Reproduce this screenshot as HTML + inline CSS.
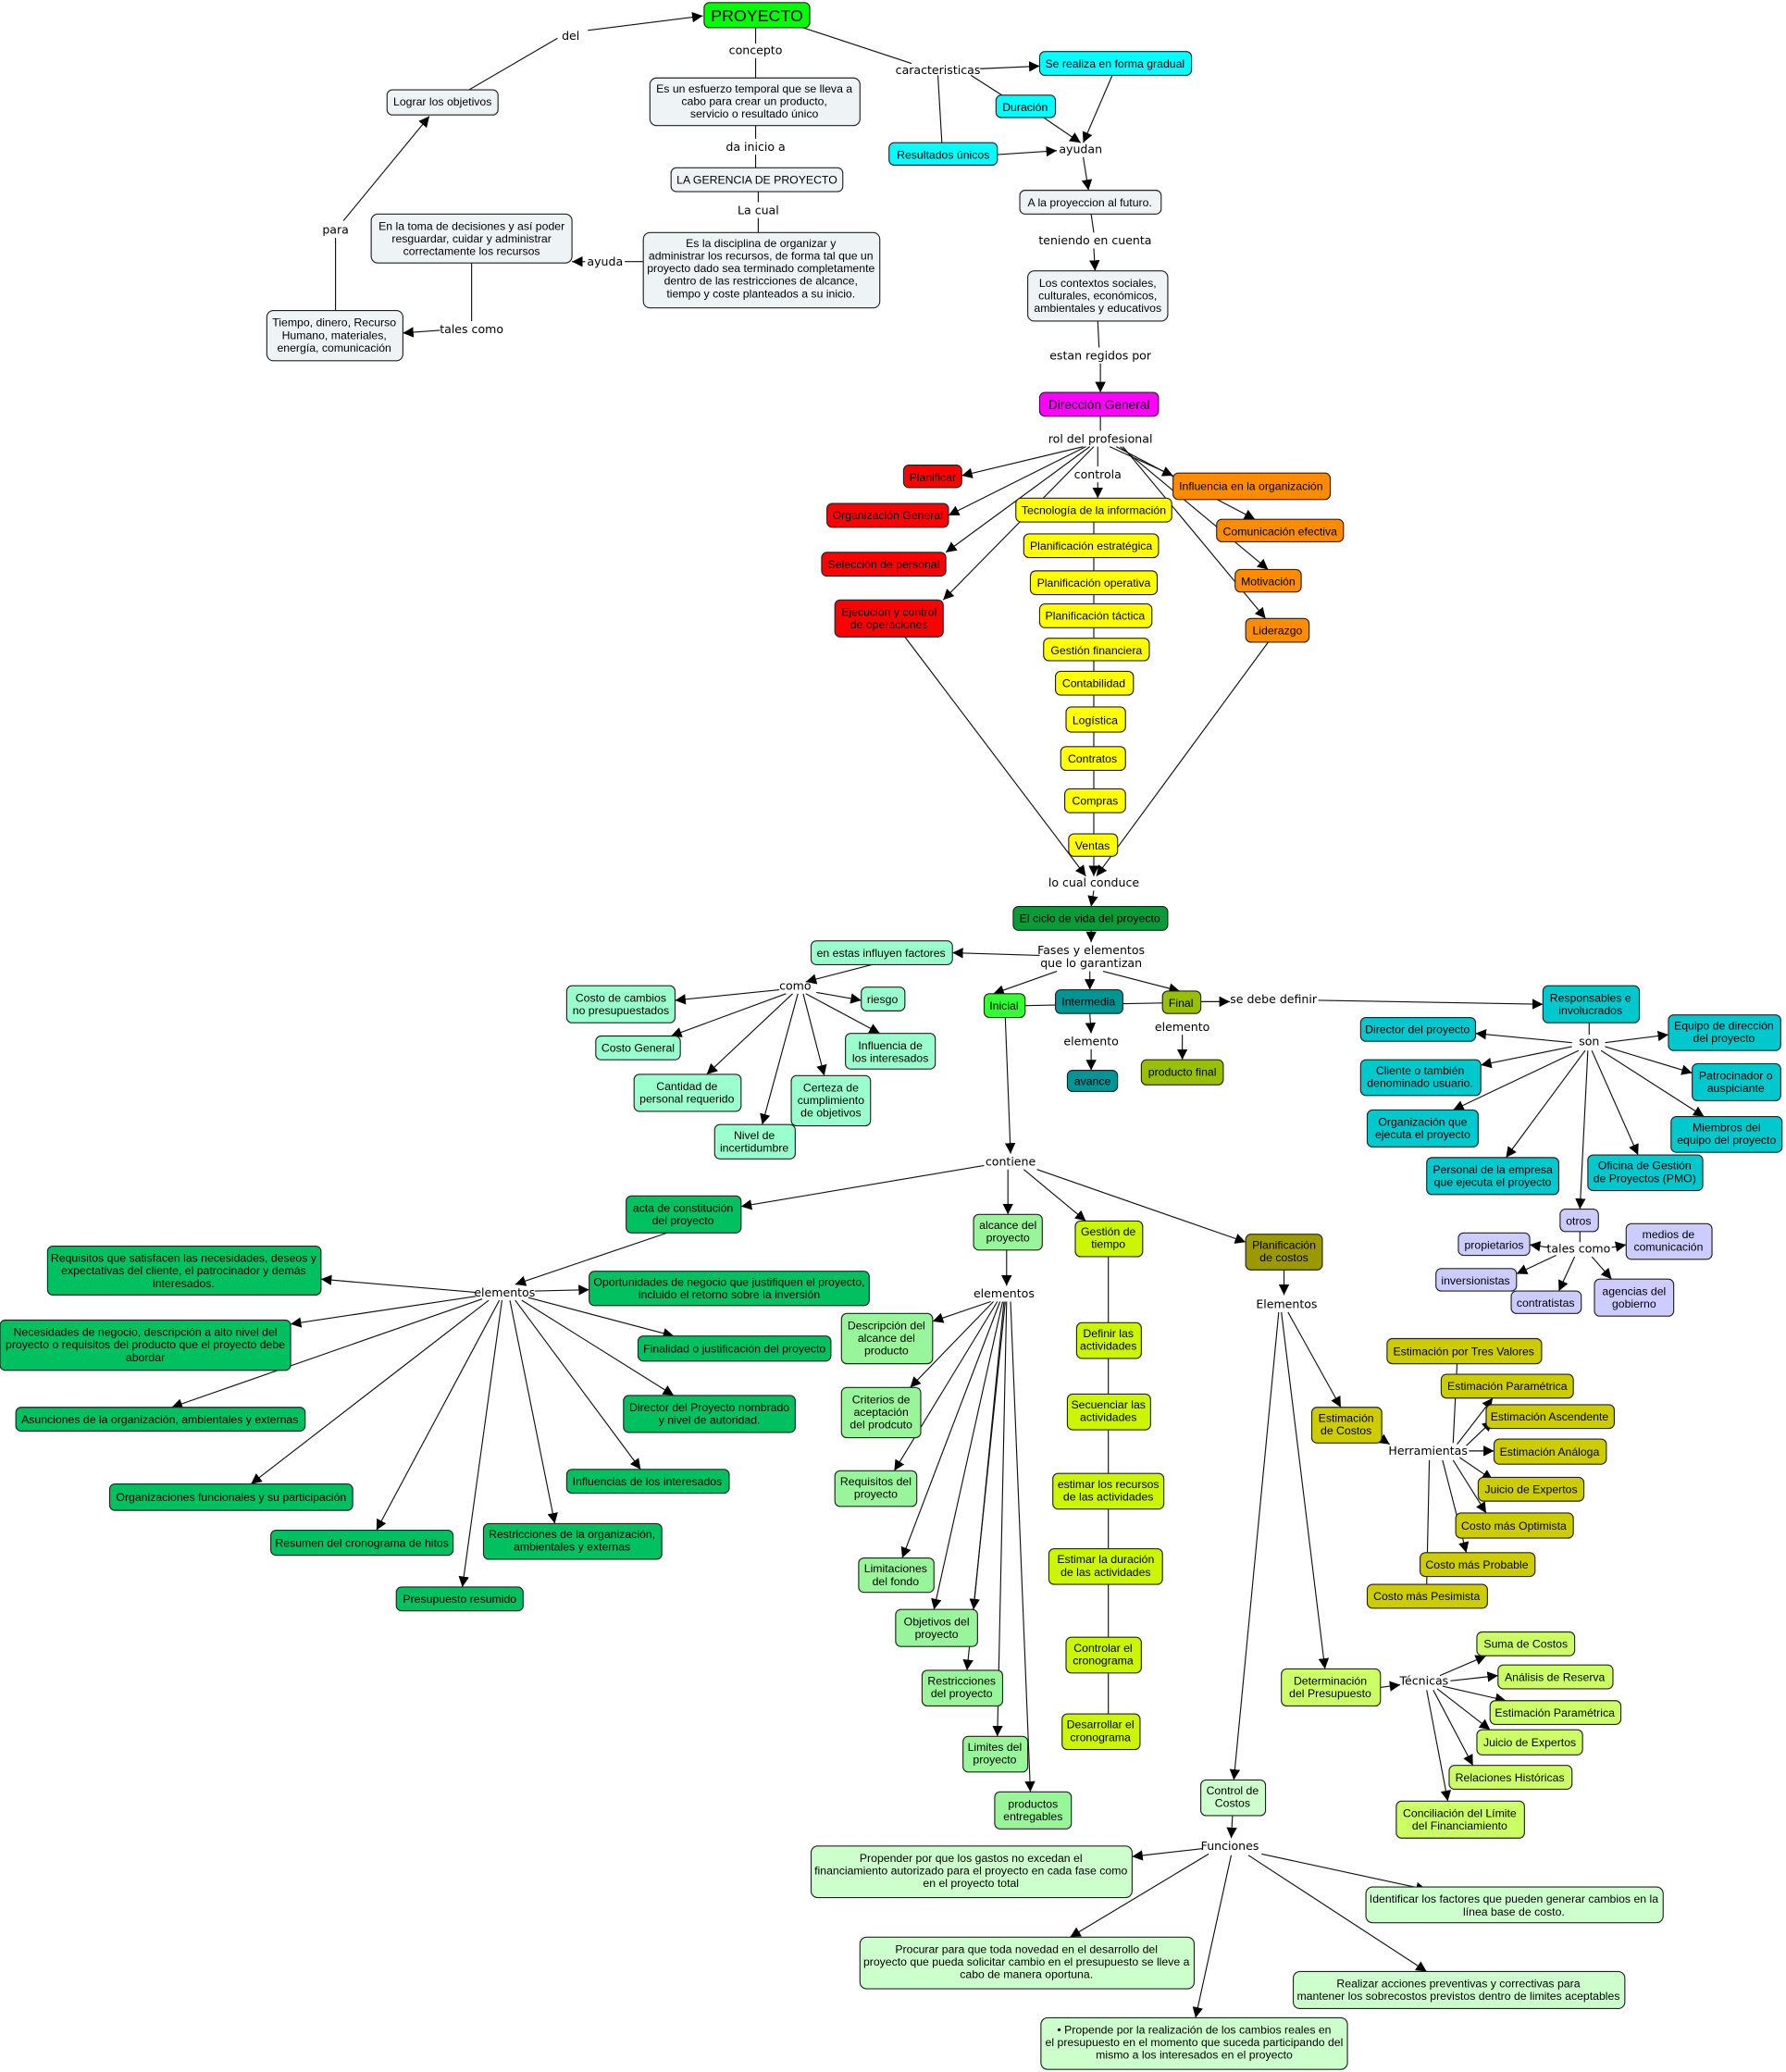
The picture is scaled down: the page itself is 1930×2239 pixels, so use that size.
<!DOCTYPE html>
<html><head><meta charset="utf-8"><style>
html,body{margin:0;padding:0;background:#fff}
svg{display:block}
text{font-family:"Liberation Sans",sans-serif;font-size:8.6px;fill:#000;text-anchor:middle}
.l{font-family:"DejaVu Sans",sans-serif;font-size:8.8px}
rect{stroke:#222;stroke-width:0.8}
line{stroke:#111;stroke-width:0.8}
.a{marker-end:url(#ar)}
.w{fill:#eef3f5}.g{fill:#00ff00}.c{fill:#00ffff}.m{fill:#ff00ff}.r{fill:#ff0000}.y{fill:#ffff00}.o{fill:#ff8c00}
.dg{fill:#0a9a38}.mi{fill:#99ffcc}.bg{fill:#33ff33}.tl{fill:#009595}.ol{fill:#99c000}.cy{fill:#00c8cc}.lv{fill:#ccccff}
.gr{fill:#00c060}.lg{fill:#99f599}.yg{fill:#ccf500}.dk{fill:#9a9a00}.yy{fill:#cccc00}.ly{fill:#ccff66}.pg{fill:#ccffcc}
</style></head><body>
<svg width="1930" height="2239" viewBox="0 0 1352 1568" preserveAspectRatio="none" xmlns="http://www.w3.org/2000/svg">
<defs><marker id="ar" viewBox="0 0 10 10" refX="10" refY="5" markerWidth="8" markerHeight="8" markerUnits="userSpaceOnUse" orient="auto"><path d="M0,0L10,5L0,10z" fill="#000"/></marker></defs>
<g>
<line x1="355" y1="68" x2="422" y2="29"/><line class="a" x1="445" y1="23" x2="532" y2="12"/>
<line x1="572" y1="21" x2="572" y2="33"/><line x1="572" y1="44" x2="572" y2="59"/>
<line x1="572" y1="95" x2="572" y2="105"/><line x1="572" y1="117" x2="572" y2="127"/>
<line x1="574" y1="145" x2="574" y2="153"/><line x1="574" y1="165" x2="574" y2="176"/>
<line x1="487" y1="198" x2="473" y2="198"/><line class="a" x1="443" y1="198" x2="433" y2="198"/>
<line x1="357" y1="199" x2="357" y2="243"/><line class="a" x1="333" y1="250" x2="305" y2="252"/>
<line x1="254" y1="235" x2="254" y2="180"/><line class="a" x1="260" y1="167" x2="325" y2="88"/>
<line x1="605" y1="20" x2="690" y2="48"/>
<line class="a" x1="742" y1="52" x2="787" y2="50"/>
<line x1="735" y1="57" x2="760" y2="73"/>
<line x1="710" y1="57" x2="713" y2="108"/>
<line class="a" x1="755" y1="117" x2="800" y2="114"/>
<line class="a" x1="790" y1="89" x2="818" y2="108"/>
<line class="a" x1="842" y1="57" x2="820" y2="108"/>
<line class="a" x1="820" y1="119" x2="824" y2="144"/>
<line x1="826" y1="162" x2="828" y2="176"/><line class="a" x1="828" y1="188" x2="829" y2="205"/>
<line x1="831" y1="243" x2="832" y2="263"/><line class="a" x1="833" y1="275" x2="833" y2="297"/>
<line x1="833" y1="315" x2="833" y2="326"/>
<line class="a" x1="820" y1="338" x2="728" y2="360"/>
<line class="a" x1="822" y1="338" x2="718" y2="390"/>
<line class="a" x1="825" y1="338" x2="716" y2="418"/>
<line class="a" x1="828" y1="338" x2="714" y2="454"/>
<line x1="831" y1="338" x2="831" y2="353"/><line class="a" x1="831" y1="365" x2="831" y2="377"/>
<line class="a" x1="840" y1="338" x2="888" y2="360"/>
<line class="a" x1="845" y1="338" x2="950" y2="393"/>
<line class="a" x1="848" y1="338" x2="960" y2="431"/>
<line class="a" x1="850" y1="338" x2="958" y2="468"/>
<line x1="828" y1="395" x2="828" y2="631"/>
<line class="a" x1="685" y1="482" x2="822" y2="663"/>
<line class="a" x1="828" y1="648" x2="828" y2="663"/>
<line class="a" x1="960" y1="486" x2="830" y2="663"/>
<line class="a" x1="828" y1="674" x2="826" y2="686"/>
<line class="a" x1="826" y1="704" x2="826" y2="713"/>
<line class="a" x1="787" y1="723" x2="721" y2="721"/>
<line class="a" x1="800" y1="735" x2="752" y2="752"/>
<line class="a" x1="825" y1="735" x2="825" y2="749"/>
<line class="a" x1="835" y1="735" x2="893" y2="750"/>
<line x1="776" y1="761" x2="880" y2="759"/>
<line class="a" x1="660" y1="730" x2="610" y2="743"/>
<line class="a" x1="590" y1="749" x2="511" y2="757"/>
<line class="a" x1="618" y1="751" x2="652" y2="757"/>
<line class="a" x1="595" y1="752" x2="508" y2="784"/>
<line class="a" x1="610" y1="752" x2="666" y2="782"/>
<line class="a" x1="600" y1="752" x2="535" y2="813"/>
<line class="a" x1="608" y1="752" x2="624" y2="814"/>
<line class="a" x1="604" y1="752" x2="577" y2="851"/>
<line class="a" x1="825" y1="767" x2="826" y2="782"/><line class="a" x1="826" y1="794" x2="826" y2="810"/>
<line class="a" x1="895" y1="783" x2="895" y2="802"/>
<line class="a" x1="909" y1="758" x2="931" y2="758"/>
<line class="a" x1="998" y1="757" x2="1168" y2="760"/>
<line x1="1203" y1="774" x2="1203" y2="783"/>
<line class="a" x1="1190" y1="789" x2="1117" y2="782"/>
<line class="a" x1="1215" y1="789" x2="1263" y2="783"/>
<line class="a" x1="1190" y1="792" x2="1121" y2="806"/>
<line class="a" x1="1215" y1="792" x2="1281" y2="812"/>
<line class="a" x1="1195" y1="795" x2="1100" y2="840"/>
<line class="a" x1="1212" y1="795" x2="1290" y2="845"/>
<line class="a" x1="1200" y1="795" x2="1140" y2="876"/>
<line class="a" x1="1205" y1="795" x2="1240" y2="874"/>
<line class="a" x1="1202" y1="795" x2="1196" y2="915"/>
<line x1="1196" y1="932" x2="1196" y2="940"/>
<line class="a" x1="1172" y1="944" x2="1158" y2="942"/>
<line class="a" x1="1220" y1="944" x2="1231" y2="942"/>
<line class="a" x1="1178" y1="950" x2="1148" y2="964"/>
<line class="a" x1="1192" y1="951" x2="1180" y2="977"/>
<line class="a" x1="1205" y1="951" x2="1220" y2="968"/>
<line class="a" x1="761" y1="770" x2="765" y2="873"/>
<line class="a" x1="745" y1="882" x2="561" y2="913"/>
<line class="a" x1="763" y1="885" x2="763" y2="919"/>
<line class="a" x1="775" y1="885" x2="822" y2="924"/>
<line class="a" x1="785" y1="885" x2="943" y2="940"/>
<line class="a" x1="505" y1="933" x2="390" y2="972"/>
<line class="a" x1="360" y1="978" x2="243" y2="968"/>
<line class="a" x1="405" y1="977" x2="446" y2="976"/>
<line class="a" x1="360" y1="981" x2="220" y2="1002"/>
<line class="a" x1="400" y1="982" x2="510" y2="1011"/>
<line class="a" x1="365" y1="983" x2="130" y2="1065"/>
<line class="a" x1="395" y1="984" x2="510" y2="1056"/>
<line class="a" x1="390" y1="984" x2="485" y2="1112"/>
<line class="a" x1="370" y1="984" x2="190" y2="1123"/>
<line class="a" x1="378" y1="984" x2="285" y2="1158"/>
<line class="a" x1="386" y1="984" x2="420" y2="1153"/>
<line class="a" x1="380" y1="984" x2="350" y2="1201"/>
<line class="a" x1="762" y1="946" x2="762" y2="973"/>
<line class="a" x1="750" y1="985" x2="706" y2="1000"/>
<line class="a" x1="752" y1="985" x2="689" y2="1050"/>
<line class="a" x1="755" y1="985" x2="677" y2="1113"/>
<line class="a" x1="757" y1="985" x2="683" y2="1179"/>
<line class="a" x1="759" y1="985" x2="707" y2="1218"/>
<line class="a" x1="760" y1="985" x2="737" y2="1218"/>
<line class="a" x1="761" y1="985" x2="732" y2="1264"/>
<line class="a" x1="762" y1="985" x2="755" y2="1314"/>
<line class="a" x1="765" y1="985" x2="780" y2="1356"/>
<line x1="839" y1="951" x2="839" y2="1297"/>
<line class="a" x1="972" y1="961" x2="972" y2="980"/>
<line class="a" x1="975" y1="993" x2="1015" y2="1065"/>
<line class="a" x1="970" y1="993" x2="1003" y2="1263"/>
<line class="a" x1="968" y1="993" x2="934" y2="1347"/>
<line class="a" x1="1046" y1="1089" x2="1052" y2="1093"/>
<line x1="1100" y1="1092" x2="1103" y2="1032"/>
<line class="a" x1="1103" y1="1093" x2="1130" y2="1058"/>
<line class="a" x1="1110" y1="1094" x2="1130" y2="1075"/>
<line class="a" x1="1112" y1="1098" x2="1131" y2="1098"/>
<line class="a" x1="1105" y1="1103" x2="1130" y2="1120"/>
<line class="a" x1="1100" y1="1105" x2="1125" y2="1145"/>
<line class="a" x1="1092" y1="1105" x2="1110" y2="1175"/>
<line x1="1082" y1="1105" x2="1080" y2="1199"/>
<line class="a" x1="1045" y1="1277" x2="1060" y2="1275"/>
<line class="a" x1="1090" y1="1268" x2="1125" y2="1253"/>
<line class="a" x1="1098" y1="1272" x2="1134" y2="1268"/>
<line class="a" x1="1092" y1="1276" x2="1140" y2="1287"/>
<line class="a" x1="1088" y1="1278" x2="1128" y2="1309"/>
<line class="a" x1="1085" y1="1279" x2="1115" y2="1336"/>
<line class="a" x1="1080" y1="1279" x2="1096" y2="1363"/>
<line class="a" x1="933" y1="1374" x2="932" y2="1391"/>
<line class="a" x1="910" y1="1399" x2="857" y2="1405"/>
<line class="a" x1="955" y1="1403" x2="1080" y2="1430"/>
<line class="a" x1="915" y1="1403" x2="810" y2="1466"/>
<line class="a" x1="945" y1="1404" x2="1080" y2="1492"/>
<line class="a" x1="932" y1="1404" x2="905" y2="1527"/>
</g>
<g class="l">
<text class="l" x="432" y="30">del</text>
<text class="l" x="572" y="41">concepto</text>
<text class="l" x="572" y="114">da inicio a</text>
<text class="l" x="574" y="162">La cual</text>
<text class="l" x="458" y="201">ayuda</text>
<text class="l" x="254" y="177">para</text>
<text class="l" x="357" y="252">tales como</text>
<text class="l" x="710" y="56">caracteristicas</text>
<text class="l" x="818" y="116">ayudan</text>
<text class="l" x="829" y="185">teniendo en cuenta</text>
<text class="l" x="833" y="272">estan regidos por</text>
<text class="l" x="833" y="335">rol del profesional</text>
<text class="l" x="831" y="362">controla</text>
<text class="l" x="828" y="671">lo cual conduce</text>
<text class="l" x="826" y="722">Fases y elementos</text>
<text class="l" x="826" y="732">que lo garantizan</text>
<text class="l" x="602" y="749">como</text>
<text class="l" x="964" y="759">se debe definir</text>
<text class="l" x="895" y="780">elemento</text>
<text class="l" x="826" y="791">elemento</text>
<text class="l" x="1203" y="791">son</text>
<text class="l" x="1195" y="948">tales como</text>
<text class="l" x="765" y="882">contiene</text>
<text class="l" x="382" y="981">elementos</text>
<text class="l" x="760" y="982">elementos</text>
<text class="l" x="974" y="990">Elementos</text>
<text class="l" x="1081" y="1101">Herramientas</text>
<text class="l" x="1078" y="1275">Técnicas</text>
<text class="l" x="931" y="1400">Funciones</text>
</g>
<g>
<rect class="g" x="533" y="2" width="80" height="19" rx="4"/><text x="573" y="16" style="font-size:12.5px">PROYECTO</text>
<rect class="w" x="293" y="68" width="84" height="19" rx="4"/><text x="335" y="80">Lograr los objetivos</text>
<rect class="w" x="492" y="59" width="159" height="36" rx="5"/><text x="571" y="70">Es un esfuerzo temporal que se lleva a</text><text x="571" y="79.5">cabo para crear un producto,</text><text x="571" y="89">servicio o resultado único</text>
<rect class="w" x="508" y="127" width="130" height="18" rx="4"/><text x="573" y="139">LA GERENCIA DE PROYECTO</text>
<rect class="w" x="487" y="176" width="179" height="57" rx="5"/><text x="576" y="187">Es la disciplina de organizar y</text><text x="576" y="196.5">administrar los recursos, de forma tal que un</text><text x="576" y="206">proyecto dado sea terminado completamente</text><text x="576" y="215.5">dentro de las restricciones de alcance,</text><text x="576" y="225">tiempo y coste planteados a su inicio.</text>
<rect class="w" x="281" y="162" width="152" height="37" rx="5"/><text x="357" y="174">En la toma de decisiones y así poder</text><text x="357" y="183.5">resguardar, cuidar y administrar</text><text x="357" y="193">correctamente los recursos</text>
<rect class="w" x="202" y="235" width="103" height="38" rx="5"/><text x="253" y="247">Tiempo, dinero, Recurso</text><text x="253" y="256.5">Humano, materiales,</text><text x="253" y="266">energía, comunicación</text>
<rect class="c" x="787" y="39" width="115" height="18" rx="4"/><text x="844" y="51">Se realiza en forma gradual</text>
<rect class="c" x="754" y="72" width="45" height="17" rx="4"/><text x="776" y="84">Duración</text>
<rect class="c" x="673" y="108" width="82" height="17" rx="4"/><text x="714" y="120">Resultados únicos</text>
<rect class="w" x="772" y="144" width="107" height="18" rx="4"/><text x="825" y="156">A la proyeccion al futuro.</text>
<rect class="w" x="778" y="205" width="106" height="38" rx="5"/><text x="831" y="217">Los contextos sociales,</text><text x="831" y="226.5">culturales, económicos,</text><text x="831" y="236">ambientales y educativos</text>
<rect class="m" x="787" y="297" width="90" height="18" rx="4"/><text x="832" y="309.5" style="font-size:9.6px">Dirección General</text>
<rect class="r" x="684" y="352" width="44" height="17" rx="4"/><text x="706" y="364">Planificar</text>
<rect class="r" x="626" y="381" width="92" height="18" rx="4"/><text x="672" y="393">Organización General</text>
<rect class="r" x="622" y="418" width="94" height="18" rx="4"/><text x="669" y="430">Selección de personal</text>
<rect class="r" x="632" y="454" width="82" height="28" rx="4"/><text x="673" y="466">Ejecución y control</text><text x="673" y="475.5">de operaciones</text>
<rect class="y" x="769" y="377" width="118" height="18" rx="4"/><text x="828" y="389">Tecnología de la información</text>
<rect class="y" x="775" y="404" width="102" height="18" rx="4"/><text x="826" y="416">Planificación estratégica</text>
<rect class="y" x="780" y="432" width="96" height="18" rx="4"/><text x="828" y="444">Planificación operativa</text>
<rect class="y" x="787" y="457" width="85" height="18" rx="4"/><text x="829" y="469">Planificación táctica</text>
<rect class="y" x="790" y="483" width="80" height="17" rx="4"/><text x="830" y="495">Gestión financiera</text>
<rect class="y" x="799" y="508" width="59" height="18" rx="4"/><text x="828" y="520">Contabilidad</text>
<rect class="y" x="807" y="535" width="45" height="19" rx="4"/><text x="829" y="548">Logística</text>
<rect class="y" x="803" y="565" width="49" height="18" rx="4"/><text x="827" y="577">Contratos</text>
<rect class="y" x="806" y="597" width="46" height="18" rx="4"/><text x="829" y="609">Compras</text>
<rect class="y" x="809" y="631" width="37" height="17" rx="4"/><text x="827" y="643">Ventas</text>
<rect class="o" x="888" y="358" width="119" height="20" rx="4"/><text x="947" y="371">Influencia en la organización</text>
<rect class="o" x="921" y="393" width="96" height="17" rx="4"/><text x="969" y="405">Comunicación efectiva</text>
<rect class="o" x="935" y="431" width="50" height="17" rx="4"/><text x="960" y="443">Motivación</text>
<rect class="o" x="943" y="468" width="48" height="18" rx="4"/><text x="967" y="480">Liderazgo</text>
<rect class="dg" x="767" y="686" width="117" height="18" rx="4"/><text x="825" y="698">El ciclo de vida del proyecto</text>
<rect class="mi" x="614" y="712" width="107" height="18" rx="4"/><text x="667" y="724">en estas influyen factores</text>
<rect class="mi" x="429" y="746" width="82" height="28" rx="4"/><text x="470" y="758">Costo de cambios</text><text x="470" y="767.5">no presupuestados</text>
<rect class="mi" x="652" y="747" width="33" height="18" rx="4"/><text x="668" y="759">riesgo</text>
<rect class="mi" x="451" y="784" width="64" height="18" rx="4"/><text x="483" y="796">Costo General</text>
<rect class="mi" x="640" y="782" width="68" height="27" rx="4"/><text x="674" y="794">Influencia de</text><text x="674" y="803.5">los interesados</text>
<rect class="mi" x="480" y="813" width="81" height="28" rx="4"/><text x="520" y="825">Cantidad de</text><text x="520" y="834.5">personal requerido</text>
<rect class="mi" x="599" y="814" width="60" height="38" rx="4"/><text x="629" y="826">Certeza de</text><text x="629" y="835.5">cumplimiento</text><text x="629" y="845">de objetivos</text>
<rect class="mi" x="541" y="851" width="61" height="26" rx="4"/><text x="571" y="862">Nivel de</text><text x="571" y="871.5">incertidumbre</text>
<rect class="bg" x="745" y="752" width="31" height="18" rx="4"/><text x="760" y="764">Inicial</text>
<rect class="tl" x="799" y="749" width="51" height="18" rx="4"/><text x="824" y="761">Intermedia</text>
<rect class="ol" x="880" y="750" width="29" height="17" rx="4"/><text x="894" y="762">Final</text>
<rect class="tl" x="808" y="810" width="38" height="16" rx="4"/><text x="827" y="821">avance</text>
<rect class="ol" x="864" y="802" width="62" height="19" rx="4"/><text x="895" y="814">producto final</text>
<rect class="cy" x="1168" y="746" width="73" height="28" rx="4"/><text x="1204" y="758">Responsables e</text><text x="1204" y="767.5">involucrados</text>
<rect class="cy" x="1030" y="770" width="87" height="18" rx="4"/><text x="1073" y="782">Director del proyecto</text>
<rect class="cy" x="1263" y="768" width="85" height="27" rx="4"/><text x="1305" y="779">Equipo de dirección</text><text x="1305" y="788.5">del proyecto</text>
<rect class="cy" x="1030" y="802" width="91" height="27" rx="4"/><text x="1075" y="813">Cliente o también</text><text x="1075" y="822.5">denominado usuario.</text>
<rect class="cy" x="1281" y="805" width="67" height="28" rx="4"/><text x="1314" y="817">Patrocinador o</text><text x="1314" y="826.5">auspiciante</text>
<rect class="cy" x="1035" y="840" width="84" height="28" rx="4"/><text x="1077" y="852">Organización que</text><text x="1077" y="861.5">ejecuta el proyecto</text>
<rect class="cy" x="1265" y="845" width="84" height="27" rx="4"/><text x="1307" y="856">Miembros del</text><text x="1307" y="865.5">equipo del proyecto</text>
<rect class="cy" x="1080" y="876" width="100" height="28" rx="4"/><text x="1130" y="888">Personal de la empresa</text><text x="1130" y="897.5">que ejecuta el proyecto</text>
<rect class="cy" x="1202" y="874" width="87" height="27" rx="4"/><text x="1245" y="885">Oficina de Gestión</text><text x="1245" y="894.5">de Proyectos (PMO)</text>
<rect class="lv" x="1181" y="915" width="29" height="17" rx="4"/><text x="1195" y="927">otros</text>
<rect class="lv" x="1104" y="933" width="54" height="17" rx="4"/><text x="1131" y="945">propietarios</text>
<rect class="lv" x="1231" y="926" width="65" height="27" rx="4"/><text x="1263" y="937">medios de</text><text x="1263" y="946.5">comunicación</text>
<rect class="lv" x="1087" y="960" width="61" height="17" rx="4"/><text x="1117" y="972">inversionistas</text>
<rect class="lv" x="1144" y="977" width="53" height="17" rx="4"/><text x="1170" y="989">contratistas</text>
<rect class="lv" x="1207" y="968" width="60" height="28" rx="4"/><text x="1237" y="980">agencias del</text><text x="1237" y="989.5">gobierno</text>
<rect class="gr" x="474" y="905" width="87" height="28" rx="4"/><text x="517" y="917">acta de constitución</text><text x="517" y="926.5">del proyecto</text>
<rect class="gr" x="36" y="943" width="207" height="37" rx="4"/><text x="139" y="955">Requisitos que satisfacen las necesidades, deseos y</text><text x="139" y="964.5">expectativas del cliente, el patrocinador y demás</text><text x="139" y="974">interesados.</text>
<rect class="gr" x="446" y="962" width="212" height="26" rx="4"/><text x="552" y="973">Oportunidades de negocio que justifiquen el proyecto,</text><text x="552" y="982.5">incluido el retorno sobre la inversión</text>
<rect class="gr" x="0" y="999" width="220" height="38" rx="4"/><text x="110" y="1011">Necesidades de negocio, descripción a alto nivel del</text><text x="110" y="1020.5">proyecto o requisitos del producto que el proyecto debe</text><text x="110" y="1030">abordar</text>
<rect class="gr" x="483" y="1011" width="146" height="19" rx="4"/><text x="556" y="1023.5">Finalidad o justificación del proyecto</text>
<rect class="gr" x="12" y="1065" width="219" height="18" rx="4"/><text x="121" y="1077">Asunciones de la organización, ambientales y externas</text>
<rect class="gr" x="472" y="1056" width="130" height="28" rx="4"/><text x="537" y="1068">Director del Proyecto nombrado</text><text x="537" y="1077.5">y nivel de autoridad.</text>
<rect class="gr" x="429" y="1112" width="123" height="18" rx="4"/><text x="490" y="1124">Influencias de los interesados</text>
<rect class="gr" x="83" y="1123" width="184" height="20" rx="4"/><text x="175" y="1136">Organizaciones funcionales y su participación</text>
<rect class="gr" x="205" y="1158" width="138" height="19" rx="4"/><text x="274" y="1170.5">Resumen del cronograma de hitos</text>
<rect class="gr" x="366" y="1153" width="135" height="27" rx="4"/><text x="433" y="1164">Restricciones de la organización,</text><text x="433" y="1173.5">ambientales y externas</text>
<rect class="gr" x="300" y="1201" width="96" height="18" rx="4"/><text x="348" y="1213">Presupuesto resumido</text>
<rect class="lg" x="737" y="919" width="52" height="27" rx="4"/><text x="763" y="930">alcance del</text><text x="763" y="939.5">proyecto</text>
<rect class="lg" x="637" y="994" width="69" height="38" rx="4"/><text x="671" y="1006">Descripción del</text><text x="671" y="1015.5">alcance del</text><text x="671" y="1025">producto</text>
<rect class="lg" x="637" y="1050" width="60" height="38" rx="4"/><text x="667" y="1062">Criterios de</text><text x="667" y="1071.5">aceptación</text><text x="667" y="1081">del prodcuto</text>
<rect class="lg" x="632" y="1113" width="62" height="27" rx="4"/><text x="663" y="1124">Requisitos del</text><text x="663" y="1133.5">proyecto</text>
<rect class="lg" x="650" y="1179" width="57" height="26" rx="4"/><text x="678" y="1190">Limitaciones</text><text x="678" y="1199.5">del fondo</text>
<rect class="lg" x="678" y="1218" width="62" height="28" rx="4"/><text x="709" y="1230">Objetivos del</text><text x="709" y="1239.5">proyecto</text>
<rect class="lg" x="698" y="1264" width="61" height="27" rx="4"/><text x="728" y="1275">Restricciones</text><text x="728" y="1284.5">del proyecto</text>
<rect class="lg" x="729" y="1314" width="49" height="27" rx="4"/><text x="753" y="1325">Limites del</text><text x="753" y="1334.5">proyecto</text>
<rect class="lg" x="753" y="1356" width="58" height="28" rx="4"/><text x="782" y="1368">productos</text><text x="782" y="1377.5">entregables</text>
<rect class="yg" x="814" y="924" width="51" height="27" rx="4"/><text x="839" y="935">Gestión de</text><text x="839" y="944.5">tiempo</text>
<rect class="yg" x="815" y="1001" width="49" height="27" rx="4"/><text x="839" y="1012">Definir las</text><text x="839" y="1021.5">actividades</text>
<rect class="yg" x="808" y="1055" width="63" height="27" rx="4"/><text x="839" y="1066">Secuenciar las</text><text x="839" y="1075.5">actividades</text>
<rect class="yg" x="797" y="1115" width="84" height="27" rx="4"/><text x="839" y="1126">estimar los recursos</text><text x="839" y="1135.5">de las actividades</text>
<rect class="yg" x="794" y="1172" width="86" height="27" rx="4"/><text x="837" y="1183">Estimar la duración</text><text x="837" y="1192.5">de las actividades</text>
<rect class="yg" x="807" y="1239" width="57" height="27" rx="4"/><text x="835" y="1250">Controlar el</text><text x="835" y="1259.5">cronograma</text>
<rect class="yg" x="804" y="1297" width="59" height="27" rx="4"/><text x="833" y="1308">Desarrollar el</text><text x="833" y="1317.5">cronograma</text>
<rect class="dk" x="943" y="934" width="58" height="27" rx="4"/><text x="972" y="945">Planificación</text><text x="972" y="954.5">de costos</text>
<rect class="yy" x="993" y="1065" width="53" height="27" rx="4"/><text x="1019" y="1076">Estimación</text><text x="1019" y="1085.5">de Costos</text>
<rect class="yy" x="1050" y="1013" width="117" height="19" rx="4"/><text x="1108" y="1025.5">Estimación por Tres Valores</text>
<rect class="yy" x="1091" y="1040" width="100" height="18" rx="4"/><text x="1141" y="1052">Estimación Paramétrica</text>
<rect class="yy" x="1125" y="1063" width="97" height="18" rx="4"/><text x="1173" y="1075">Estimación Ascendente</text>
<rect class="yy" x="1131" y="1089" width="85" height="19" rx="4"/><text x="1173" y="1101.5">Estimación Análoga</text>
<rect class="yy" x="1119" y="1118" width="80" height="18" rx="4"/><text x="1159" y="1130">Juicio de Expertos</text>
<rect class="yy" x="1102" y="1145" width="89" height="19" rx="4"/><text x="1146" y="1157.5">Costo más Optimista</text>
<rect class="yy" x="1075" y="1175" width="87" height="18" rx="4"/><text x="1118" y="1187">Costo más Probable</text>
<rect class="yy" x="1035" y="1199" width="91" height="18" rx="4"/><text x="1080" y="1211">Costo más Pesimista</text>
<rect class="ly" x="970" y="1263" width="75" height="28" rx="4"/><text x="1007" y="1275">Determinación</text><text x="1007" y="1284.5">del Presupuesto</text>
<rect class="ly" x="1118" y="1235" width="74" height="18" rx="4"/><text x="1155" y="1247">Suma de Costos</text>
<rect class="ly" x="1134" y="1260" width="87" height="18" rx="4"/><text x="1177" y="1272">Análisis de Reserva</text>
<rect class="ly" x="1128" y="1287" width="99" height="18" rx="4"/><text x="1177" y="1299">Estimación Paramétrica</text>
<rect class="ly" x="1118" y="1309" width="80" height="19" rx="4"/><text x="1158" y="1321.5">Juicio de Expertos</text>
<rect class="ly" x="1097" y="1336" width="93" height="18" rx="4"/><text x="1143" y="1348">Relaciones Históricas</text>
<rect class="ly" x="1057" y="1363" width="97" height="28" rx="4"/><text x="1105" y="1375">Conciliación del Límite</text><text x="1105" y="1384.5">del Financiamiento</text>
<rect class="pg" x="909" y="1347" width="49" height="27" rx="4"/><text x="933" y="1358">Control de</text><text x="933" y="1367.5">Costos</text>
<rect class="pg" x="614" y="1397" width="243" height="39" rx="5"/><text x="735" y="1409">Propender por que los gastos no excedan el</text><text x="735" y="1418.5">financiamiento autorizado para el proyecto en cada fase como</text><text x="735" y="1428">en el proyecto total</text>
<rect class="pg" x="1034" y="1428" width="225" height="27" rx="5"/><text x="1146" y="1440">Identificar los factores que pueden generar cambios en la</text><text x="1146" y="1449.5">línea base de costo.</text>
<rect class="pg" x="651" y="1466" width="253" height="39" rx="5"/><text x="777" y="1478">Procurar para que toda novedad en el desarrollo del</text><text x="777" y="1487.5">proyecto que pueda solicitar cambio en el presupuesto se lleve a</text><text x="777" y="1497">cabo de manera oportuna.</text>
<rect class="pg" x="979" y="1492" width="251" height="28" rx="5"/><text x="1104" y="1504">Realizar acciones preventivas y correctivas para</text><text x="1104" y="1513.5">mantener los sobrecostos previstos dentro de limites aceptables</text>
<rect class="pg" x="788" y="1527" width="232" height="39" rx="5"/><text x="904" y="1539">• Propende por la realización de los cambios reales en</text><text x="904" y="1548.5">el presupuesto en el momento que suceda participando del</text><text x="904" y="1558">mismo a los interesados en el proyecto</text>
</g>
</svg>
</body></html>
